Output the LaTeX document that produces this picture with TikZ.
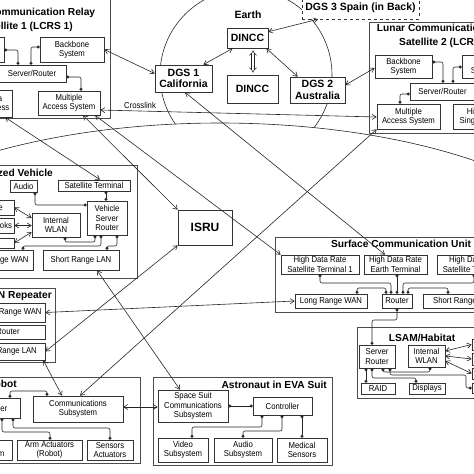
\documentclass[tikz,border=0pt]{standalone}
\usepackage{fontspec}
\setmainfont{Liberation Sans}
\newfontfamily\condfont{Liberation Sans}[FakeStretch=0.9]
\usetikzlibrary{arrows.meta}
\begin{document}
\begin{tikzpicture}[x=1pt,y=-1pt,
  box/.style={draw=black!80, line width=0.6pt, fill=white, inner sep=0pt, align=center, font=\condfont\fontsize{8.6}{9.3}\selectfont},
  bbox/.style={box, font=\bfseries\fontsize{10.5}{11.5}\selectfont},
  frame/.style={draw=black!70, line width=0.9pt},
  ttl/.style={font=\bfseries\fontsize{10.2}{14}\selectfont, align=center, inner sep=0pt},
  link/.style={draw=black!85, line width=0.6pt},
  arr/.style={link, {Straight Barb[length=4pt,width=5pt]}-{Straight Barb[length=4pt,width=5pt]}},
  conn/.style={link, rounded corners=2pt, {Circle[length=3pt]}-{Circle[length=3pt]}}
]
\useasboundingbox (0,0) rectangle (474,474);
\clip (0,0) rectangle (474,474);
\fill[white] (0,0) rectangle (474,474);

% ---------- Earth circle (above the lunar horizon) ----------
\begin{scope}
\clip (-20,-20) -- (500,-20) -- ([shift={(220,288)}]40:400pt and 165pt)
  arc [start angle=40, end angle=140, x radius=400pt, y radius=165pt] -- cycle;
\draw[link] (246,75) circle [radius=86pt];
\end{scope}
\draw[link] ([shift={(220,288)}]130:400pt and 165pt)
  arc [start angle=130, end angle=45, x radius=400pt, y radius=165pt];

% ---------- group frames ----------
\draw[frame] (-5,-5) rectangle (110,118);
\draw[frame] (369,22) rectangle (490,133);
\draw[frame] (-5,165) rectangle (137,278);
\draw[frame] (-5,288) rectangle (55,362);
\draw[frame] (-5,377) rectangle (140,463);
\draw[frame] (153,377) rectangle (332,465);
\draw[frame] (275,237) rectangle (490,312);
\draw[frame] (357,327) rectangle (490,398);

% ---------- titles ----------
\node[ttl] (t1) at (26,19.5) {Lunar Communication Relay\\Satellite 1 (LCRS 1)};
\node[ttl] (t2) at (446,35.5) {Lunar Communication Relay\\Satellite 2 (LCRS 2)};
\node[ttl, anchor=east] (tpv) at (53,172.5) {Pressurized Vehicle};
\node[ttl, anchor=east] (tw) at (52,296.5) {WAN Repeater};
\node[ttl, anchor=east] (tr) at (17,384) {Robot};
\node[ttl, anchor=east] (ta) at (327,384.5) {Astronaut in EVA Suit};
\node[ttl] (ts) at (401,243.5) {Surface Communication Unit};
\node[ttl] (tl) at (422,338) {LSAM/Habitat};
\node[font=\bfseries\fontsize{10.5}{12}\selectfont, inner sep=0pt] (earth) at (248,15) {Earth};

% ---------- boxes ----------
% LCRS 1
\node[box, minimum width=34pt, minimum height=25pt] (c1a) at (-13,49.5) {};
\node[box, minimum width=64pt, minimum height=25pt] (bb1) at (72,49.5) {Backbone\\System};
\node[box, minimum width=68pt, minimum height=17pt] (sr1) at (32,73.5) {Server/Router};
\node[box, minimum width=54pt, minimum height=27pt] (lhdr1) at (-15,103.5) {High Data\\Single Access};
\node[box, minimum width=62pt, minimum height=24pt] (mas1) at (69,103) {Multiple\\Access System};
% Earth
\node[bbox, minimum width=41pt, minimum height=20pt] (dincc1) at (247.5,38) {DINCC};
\node[bbox, minimum width=51pt, minimum height=28pt] (dincc2) at (252.5,89) {DINCC};
\node[bbox, minimum width=57pt, minimum height=27pt] (dgs1) at (183.5,78.5) {DGS 1\\California};
\node[bbox, minimum width=55pt, minimum height=26pt] (dgs2) at (317.5,90) {DGS 2\\Australia};
\node[bbox, dashed, minimum width=117pt, minimum height=22pt] (dgs3) at (360.5,8) {DGS 3 Spain (in Back)};
% LCRS 2
\node[box, minimum width=57pt, minimum height=23pt] (bb2) at (403.5,66.5) {Backbone\\System};
\node[box, minimum width=56pt, minimum height=23pt] (tt2) at (490,66.5) {TT\&C\\Subsystem};
\node[box, minimum width=65pt, minimum height=17pt] (sr2) at (442.5,91.5) {Server/Router};
\node[box, minimum width=63pt, minimum height=25pt] (mas2) at (408.5,116.5) {Multiple\\Access System};
\node[box, minimum width=62pt, minimum height=25pt] (hsa2) at (484,116.5) {High Data\\Single Access};
% Pressurized vehicle
\node[box, minimum width=27pt, minimum height=12pt] (audio) at (23.5,186) {Audio};
\node[box, minimum width=72pt, minimum height=11pt] (satterm) at (94,185.5) {Satellite Terminal};
\node[box, minimum width=45pt, minimum height=15pt] (lb1) at (-8.5,207.5) {Phone};
\node[box, minimum width=41pt, minimum height=15pt] (lb2) at (-6.5,225.5) {Notebooks};
\node[box, minimum width=44pt, minimum height=10pt] (lb3) at (-8,243) {PDA};
\node[box, minimum width=48pt, minimum height=24pt] (wlan) at (56,225) {Internal\\WLAN};
\node[box, minimum width=40pt, minimum height=34pt] (vsr) at (107,218) {Vehicle\\Server\\Router};
\node[box, minimum width=71pt, minimum height=20pt] (lrwan) at (-2.5,260) {Long Range WAN};
\node[box, minimum width=76pt, minimum height=20pt] (srlan) at (81,260) {Short Range LAN};
% WAN repeater
\node[box, minimum width=69pt, minimum height=19pt] (wlr) at (10.5,312.5) {Long Range WAN};
\node[box, minimum width=74pt, minimum height=14pt] (wrt) at (8,332) {Router};
\node[box, minimum width=77pt, minimum height=17pt] (wsr) at (6.5,351.5) {Short Range LAN};
% Robot
\node[box, minimum width=59pt, minimum height=20pt] (rctl) at (-9.5,408) {Controller};
\node[box, minimum width=90pt, minimum height=26pt] (rcomm) at (78,409) {Communications\\Subsystem};
\node[box, minimum width=41pt, minimum height=20pt] (rdrv) at (-8.5,450) {Drive\\System};
\node[box, minimum width=65pt, minimum height=20pt] (rarm) at (49.5,450) {Arm Actuators\\(Robot)};
\node[box, minimum width=46pt, minimum height=20pt] (rsens) at (110,450) {Sensors\\Actuators};
% Astronaut
\node[box, minimum width=70pt, minimum height=32pt] (sscomm) at (193,406) {Space Suit\\Communications\\Subsystem};
\node[box, minimum width=59pt, minimum height=18pt] (actl) at (282.5,406) {Controller};
\node[box, minimum width=50pt, minimum height=24pt] (video) at (183,450) {Video\\Subsystem};
\node[box, minimum width=58pt, minimum height=24pt] (audio2) at (243,450) {Audio\\Subsystem};
\node[box, minimum width=50pt, minimum height=24pt] (med) at (302,450) {Medical\\Sensors};
% ISRU
\node[box, font=\bfseries\fontsize{12}{14}\selectfont, minimum width=54pt, minimum height=35pt] (isru) at (205,227.5) {ISRU};
% Surface communication unit
\node[box, minimum width=78pt, minimum height=19pt] (hdr1) at (320,264.5) {High Data Rate\\Satellite Terminal 1};
\node[box, minimum width=63pt, minimum height=19pt] (hdre) at (395.5,264.5) {High Data Rate\\Earth Terminal};
\node[box, minimum width=77pt, minimum height=19pt] (hdr2) at (475.5,264.5) {High Data Rate\\Satellite Terminal 2};
\node[box, minimum width=72pt, minimum height=14pt] (slrwan) at (331,301) {Long Range WAN};
\node[box, minimum width=30pt, minimum height=14pt] (srouter) at (397,301) {Router};
\node[box, minimum width=81pt, minimum height=14pt] (ssrlan) at (463.5,301) {Short Range LAN};
% LSAM
\node[box, minimum width=36pt, minimum height=23pt] (lsr) at (377,356.5) {Server\\Router};
\node[box, minimum width=37pt, minimum height=22pt] (lwlan) at (426.5,356) {Internal\\WLAN};
\node[box, minimum width=34pt, minimum height=11pt] (raid) at (378,388.5) {RAID};
\node[box, minimum width=36pt, minimum height=11pt] (disp) at (427,388.5) {Displays};
\node[box, minimum width=48pt, minimum height=11pt] (ra) at (496,344.5) {};
\node[box, minimum width=48pt, minimum height=12pt] (rb) at (496,359) {};
\node[box, minimum width=48pt, minimum height=11pt] (rc) at (496,373.5) {};
\node[box, minimum width=48pt, minimum height=10pt] (rd) at (496,388) {};

% ---------- long links ----------
\draw[arr] (5,0 |- lhdr1.south) -- (100,0 |- satterm.north);
\draw[arr] (83,0 |- mas1.south) -- (isru.north west);
\draw[arr] (95,0 |- mas1.south) -- (hdr1.north west);
\draw[arr] (bb1.east) -- ([yshift=5pt]dgs1.west);
\draw[arr] (185,0 |- dgs1.south) -- (385,0 |- hdre.north);
\draw[arr] ([xshift=6pt]dincc1.south west) -- ([xshift=-9pt]dgs1.north east);
\draw[arr] ([xshift=-2pt]dincc1.south east) -- ([xshift=8pt]dgs2.north west);
\draw[arr] ([yshift=-4pt]dincc1.north east) -- (318,0 |- dgs3.south);
\draw[arr] (dgs2.east |- 0,85) -- (bb2.west |- 0,68);
\draw[arr] (mas1.east |- 0,110) -- (mas2.west |- 0,117);
\draw[arr] (mas2.south west) -- (80,0 |- rcomm.north);
\draw[arr] (wsr.east) -- (isru.south west);
\draw[arr] (wlr.east) -- (slrwan.west);
\draw[arr] ([xshift=-2pt]wsr.south east) -- (62,0 |- rcomm.north);
\draw[arr] (97,0 |- srlan.south) -- (180,0 |- sscomm.north);
\draw[arr] (rcomm.east |- 0,407) -- (sscomm.west |- 0,407);
\draw[draw=black!85, line width=0.5pt, double, double distance=2.2pt, {Implies}-{Implies}, shorten <=2pt, shorten >=2pt]
  (253,0 |- dincc1.south) -- (253,0 |- dincc2.north);
\node[font=\condfont\fontsize{8.6}{9.3}\selectfont, anchor=south, inner sep=1pt] (xl) at (140,110) {Crosslink};

% ---------- internal connectors ----------
% LCRS 1
\draw[conn] (18,0 |- sr1.north) -- (18,50) -- (c1a.east |- 0,50);
\draw[conn] (31,0 |- sr1.north) -- (31,47) -- (bb1.west |- 0,47);
\draw[conn] (sr1.east |- 0,77) -- (81,77) -- (81,0 |- mas1.north);
% LCRS 2
\draw[conn] (bb2.east |- 0,62) -- (443,62) -- (443,0 |- sr2.north);
\draw[conn] (tt2.west |- 0,67) -- (453,67) -- (453,0 |- sr2.north);
\draw[conn] (sr2.west |- 0,94) -- (400,94) -- (400,0 |- mas2.north);
% Pressurized vehicle
\draw[conn] (35,0 |- audio.south) -- (35,205) -- (vsr.west |- 0,205);
\draw[conn] (106,0 |- satterm.south) -- (106,0 |- vsr.north);
\draw[arr] (lb1.east) -- (wlan.west |- 0,218);
\draw[arr] (lb2.east) -- (wlan.west |- 0,225.5);
\draw[arr] (lb3.east) -- (wlan.west |- 0,232);
\draw[conn] (65,0 |- wlan.south) -- (65,242) -- (95,242) -- (95,0 |- vsr.south);
\draw[conn] (101,0 |- vsr.south) -- (101,246) -- (23,246) -- (23,0 |- lrwan.north);
\draw[conn] (117,0 |- vsr.south) -- (117,246) -- (107,246) -- (107,0 |- srlan.north);
% Robot
\draw[conn] (10,0 |- rctl.north) -- (10,391) -- (47,391) -- (47,0 |- rcomm.north);
\draw[conn] (2,0 |- rctl.south) -- (2,432) -- (50,432) -- (50,0 |- rarm.north);
\draw[conn] (13,0 |- rctl.south) -- (13,428) -- (110,428) -- (110,0 |- rsens.north);
% Astronaut
\draw[conn] (sscomm.east) -- (actl.west);
\draw[conn] (262,0 |- actl.south) -- (262,427) -- (192,427) -- (192,0 |- video.north);
\draw[conn] (282,0 |- actl.south) -- (282,431) -- (243,431) -- (243,0 |- audio2.north);
\draw[conn] (302,0 |- actl.south) -- (302,0 |- med.north);
% Surface communication unit
\draw[conn] (320,0 |- hdr1.south) -- (320,283) -- (391,283) -- (391,0 |- srouter.north);
\draw[conn] (397,0 |- hdre.south) -- (397,0 |- srouter.north);
\draw[conn] (357,0 |- slrwan.north) -- (357,288) -- (386,288) -- (386,0 |- srouter.north);
\draw[conn] (474,0 |- hdr2.south) -- (474,283) -- (403,283) -- (403,0 |- srouter.north);
\draw[conn] (448,0 |- ssrlan.north) -- (448,288) -- (408,288) -- (408,0 |- srouter.north);
\draw[conn] (srouter.south) -- (397,320) -- (372,320) -- (372,0 |- lsr.north);
% LSAM
\draw[conn] (366,0 |- lsr.south) -- (366,0 |- raid.north);
\draw[conn] (372,0 |- lsr.south) -- (372,378) -- (416,378) -- (416,0 |- disp.north);
\draw[conn] (383,0 |- lsr.south) -- (383,372) -- (430,372) -- (430,0 |- lwlan.south);
\draw[conn] (390,0 |- lsr.south) -- (390,375) -- (466,375) -- (466,388) -- (rd.west);
\draw[arr] (lwlan.east |- 0,351) -- (ra.west);
\draw[arr] (lwlan.east |- 0,356) -- (rb.west);
\draw[arr] (lwlan.east |- 0,361) -- (rc.west);
\end{tikzpicture}
\end{document}
